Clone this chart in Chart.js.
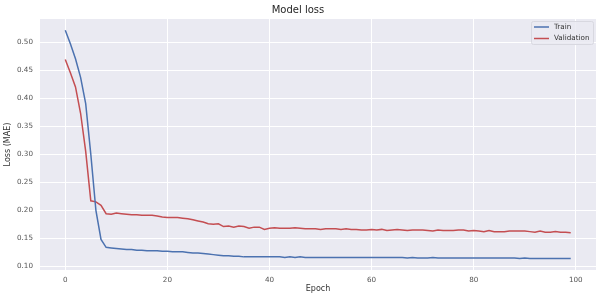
<!DOCTYPE html>
<html>
<head>
<meta charset="utf-8">
<script src="https://cdn.jsdelivr.net/npm/chart.js@4"></script>
<style>
  html, body { margin: 0; padding: 0; background: #fff; }
  #wrap { width: 602px; height: 294px; }
</style>
</head>
<body>
<div id="wrap"><canvas id="grafico"></canvas></div>
<script>
const epochs = Array.from({ length: 100 }, (_, i) => i);

const trainLoss = [
  0.521, 0.497, 0.470, 0.437, 0.390, 0.300, 0.200, 0.148, 0.134, 0.133,
  0.132, 0.131, 0.130, 0.130, 0.129, 0.129, 0.128, 0.128, 0.128, 0.127,
  0.127, 0.126, 0.126, 0.126, 0.125, 0.124, 0.124, 0.123, 0.122, 0.121,
  0.120, 0.119, 0.119, 0.118, 0.118, 0.117, 0.117, 0.117, 0.117, 0.117,
  0.117, 0.117, 0.117, 0.116, 0.117, 0.116, 0.117, 0.116, 0.116, 0.116,
  0.116, 0.116, 0.116, 0.116, 0.116, 0.116, 0.116, 0.116, 0.116, 0.116,
  0.116, 0.116, 0.116, 0.116, 0.116, 0.116, 0.116, 0.115, 0.116, 0.115,
  0.115, 0.115, 0.116, 0.115, 0.115, 0.115, 0.115, 0.115, 0.115, 0.115,
  0.115, 0.115, 0.115, 0.115, 0.115, 0.115, 0.115, 0.115, 0.115, 0.114,
  0.115, 0.114, 0.114, 0.114, 0.114, 0.114, 0.114, 0.114, 0.114, 0.114
];

const valLoss = [
  0.469, 0.445, 0.420, 0.373, 0.305, 0.217, 0.215, 0.209, 0.194, 0.193,
  0.195, 0.194, 0.193, 0.192, 0.192, 0.191, 0.191, 0.191, 0.190, 0.188,
  0.187, 0.187, 0.187, 0.186, 0.185, 0.183, 0.181, 0.179, 0.176, 0.175,
  0.176, 0.171, 0.172, 0.170, 0.172, 0.171, 0.168, 0.170, 0.170, 0.166,
  0.168, 0.169, 0.168, 0.168, 0.168, 0.169, 0.168, 0.167, 0.167, 0.167,
  0.166, 0.167, 0.167, 0.167, 0.166, 0.167, 0.166, 0.166, 0.165, 0.165,
  0.166, 0.165, 0.166, 0.164, 0.165, 0.166, 0.165, 0.164, 0.165, 0.165,
  0.165, 0.164, 0.163, 0.165, 0.164, 0.164, 0.164, 0.165, 0.165, 0.163,
  0.164, 0.163, 0.162, 0.164, 0.162, 0.162, 0.162, 0.163, 0.163, 0.163,
  0.163, 0.162, 0.161, 0.163, 0.161, 0.161, 0.162, 0.161, 0.161, 0.160
];

const xTicks = [0, 20, 40, 60, 80, 100];
const yTicks = [0.10, 0.15, 0.20, 0.25, 0.30, 0.35, 0.40, 0.45, 0.50];

const FONT = "'DejaVu Sans', sans-serif";
const BLUE = '#4C72B0';
const RED = '#C44E52';

// seaborn look: grey plot background, legend box inside the plot
const sbStyle = {
  id: 'sbStyle',
  beforeDraw(chart) {
    const { ctx, chartArea: a } = chart;
    ctx.save();
    ctx.fillStyle = '#EAEAF2';
    ctx.fillRect(a.left, a.top, a.right - a.left, a.bottom - a.top);
    ctx.restore();
  },
  afterDraw(chart) {
    const { ctx, chartArea: a } = chart;
    const bx = a.right - 65, by = a.top + 2, bw = 62, bh = 23;
    ctx.save();
    ctx.fillStyle = 'rgba(234,234,242,0.85)';
    ctx.strokeStyle = '#D8D8E0';
    ctx.lineWidth = 1;
    ctx.beginPath();
    ctx.roundRect(bx + 0.5, by + 0.5, bw, bh, 2);
    ctx.fill();
    ctx.stroke();
    const items = [['Train', BLUE], ['Validation', RED]];
    ctx.font = '7.2px ' + FONT;
    ctx.textBaseline = 'middle';
    items.forEach(([label, col], i) => {
      const y = by + 6 + i * 11.5;
      ctx.strokeStyle = col;
      ctx.lineWidth = 1.5;
      ctx.beginPath();
      ctx.moveTo(bx + 3, y);
      ctx.lineTo(bx + 18, y);
      ctx.stroke();
      ctx.fillStyle = '#333';
      ctx.fillText(label, bx + 23, y);
    });
    ctx.restore();
  }
};

const ctx = document.getElementById('grafico');

new Chart(ctx, {
  type: 'line',
  data: {
    labels: epochs,
    datasets: [{
      label: 'Train',
      data: epochs.map((e, i) => ({ x: e, y: trainLoss[i] })),
      borderColor: BLUE,
      borderWidth: 1.5,
      pointRadius: 0,
      tension: 0
    }, {
      label: 'Validation',
      data: epochs.map((e, i) => ({ x: e, y: valLoss[i] })),
      borderColor: RED,
      borderWidth: 1.5,
      pointRadius: 0,
      tension: 0
    }]
  },
  options: {
    responsive: true,
    maintainAspectRatio: false,
    animation: false,
    layout: { padding: { left: 0, right: 6, top: 0, bottom: 0 } },
    plugins: {
      legend: { display: false },
      tooltip: { enabled: false },
      title: {
        display: true,
        text: 'Model loss',
        color: '#262626',
        font: { family: FONT, size: 10, weight: 'normal' },
        padding: { top: 4, bottom: 3 }
      }
    },
    scales: {
      x: {
        type: 'linear',
        min: -4.95,
        max: 103.95,
        afterBuildTicks(scale) { scale.ticks = xTicks.map(v => ({ value: v })); },
        afterFit(scale) { scale.height = 24; },
        border: { display: false },
        grid: { color: '#FFFFFF', lineWidth: 1, drawTicks: false },
        ticks: { color: '#555', font: { family: FONT, size: 7.2 }, padding: 6, maxRotation: 0 },
        title: {
          display: true, text: 'Epoch', color: '#333',
          font: { family: FONT, size: 8 }, padding: { top: 0, bottom: 0 }
        }
      },
      y: {
        min: 0.0936,
        max: 0.541,
        afterBuildTicks(scale) { scale.ticks = yTicks.map(v => ({ value: v })); },
        afterFit(scale) { scale.width = 40; },
        border: { display: false },
        grid: { color: '#FFFFFF', lineWidth: 1, drawTicks: false },
        ticks: {
          color: '#555', font: { family: FONT, size: 7.2 }, padding: 7,
          callback: v => v.toFixed(2)
        },
        title: {
          display: true, text: 'Loss (MAE)', color: '#333',
          font: { family: FONT, size: 8 }, padding: { top: 3, bottom: 0 }
        }
      }
    }
  },
  plugins: [sbStyle]
});
</script>
</body>
</html>
